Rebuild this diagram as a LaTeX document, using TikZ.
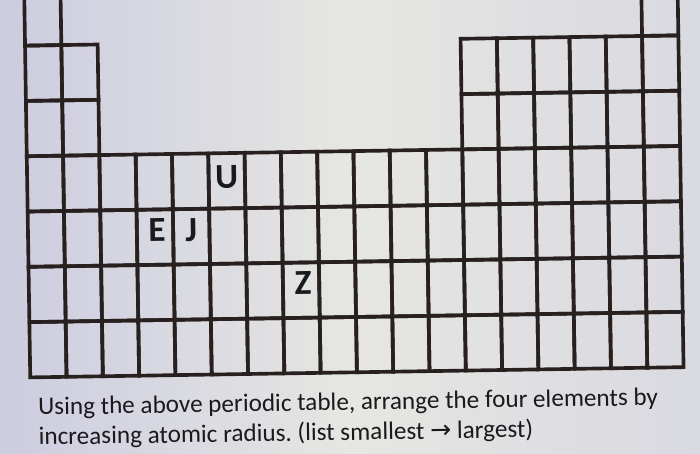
\documentclass[tikz,border=0pt]{standalone}
\usepackage{fontspec}
\setmainfont{Carlito}
\newfontfamily\arrowfont{DejaVu Sans}
\definecolor{gridline}{RGB}{40,32,30}
\definecolor{paper}{RGB}{230,230,226}
\definecolor{paperedge}{RGB}{204,204,224}
\definecolor{ink}{RGB}{26,26,28}
\tikzset{
	cell/.style={draw=gridline,line width=2.6pt},
	elem/.style={font=\fontsize{25}{26}\selectfont\bfseries,text=ink,text height=0.63em,text depth=0pt,inner sep=0},
	question/.style={font=\fontsize{17.9}{21}\selectfont\frenchspacing,text=ink,anchor=base west,inner sep=0}
}
\begin{document}
\begin{tikzpicture}[x=0.025cm,y=-0.025cm]
\useasboundingbox (0,0) rectangle (700,454);
\shade[left color=paperedge,right color=paperedge!50!paper,middle color=paper] (0,0) rectangle (700,454);
\begin{scope}[rotate around={0.9:(354,200)},transform shape]
\def\cw{36.3}
\def\rh{55.3}
% period 1
\foreach \c in {0,17}
	\draw[cell] (27.5+\c*\cw,-14.8) rectangle +(\cw,\rh);
% periods 2 and 3
\foreach \r in {1,2}
	\foreach \c in {0,1,12,13,...,17}
		\draw[cell] (27.5+\c*\cw,-14.8+\r*\rh) rectangle +(\cw,\rh);
% periods 4 to 7
\foreach \r in {3,...,6}
	\foreach \c in {0,...,17}
		\draw[cell] (27.5+\c*\cw,-14.8+\r*\rh) rectangle +(\cw,\rh);

\node[elem] (U) at (27.5+5.5*\cw,-14.8+3.5*\rh+3) {U};
\node[elem] (E) at (27.5+3.5*\cw+2,-14.8+4.5*\rh) {E};
\node[elem] (J) at (27.5+4.5*\cw,-14.8+4.5*\rh) {J};
\node[elem] (Z) at (27.5+7.5*\cw+2,-14.8+5.5*\rh) {Z};

\node[question] (line1) at (34.7,410) {Using the above periodic table, arrange the four elements by};
\node[question] (line2) at (34.7,440) {increasing atomic radius. (list smallest {\arrowfont →} largest)};
\end{scope}
\end{tikzpicture}
\end{document}
